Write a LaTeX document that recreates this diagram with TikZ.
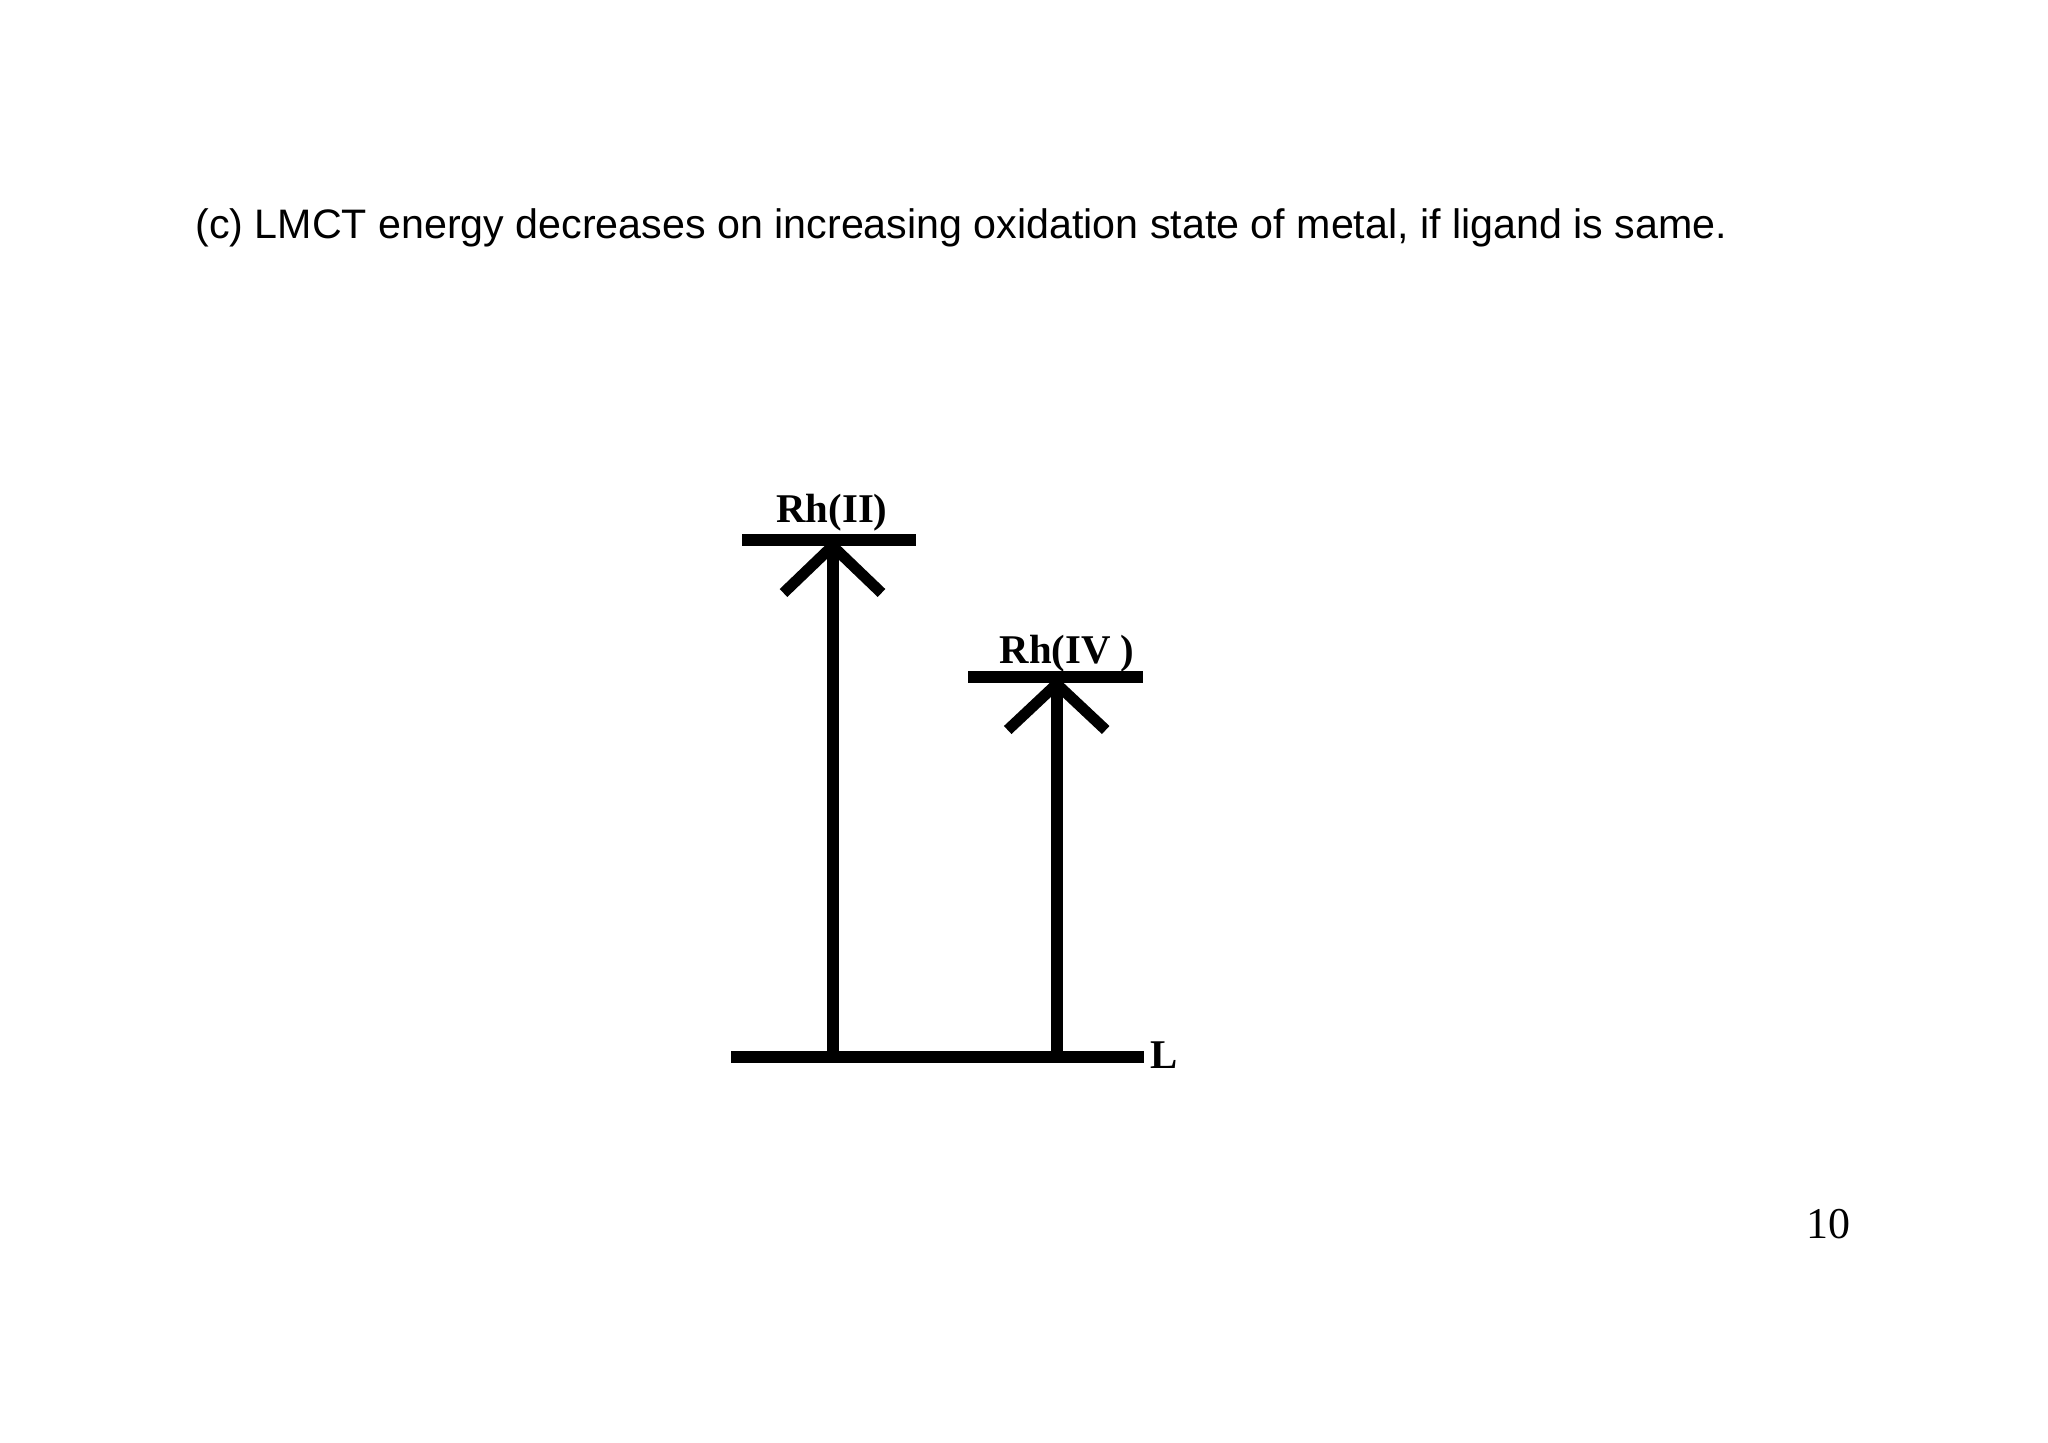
\documentclass[tikz,border=0pt]{standalone}
\usepackage{fontspec}
\setmainfont{Liberation Serif}
\newfontfamily\titlefont{Liberation Sans}
\begin{document}
\begin{tikzpicture}[x=0.5pt,y=-0.5pt,
  level/.style={line width=6pt, line cap=butt},
  trans/.style={line width=6pt, line cap=butt},
  wing/.style={line width=5.5pt, line cap=butt, line join=miter},
  lab/.style={anchor=base, inner sep=0pt, font=\fontsize{20.4pt}{24pt}\selectfont\bfseries},
]
\useasboundingbox (0,0) rectangle (2048,1443);
\fill[white] (0,0) rectangle (2048,1443);

% title
\node[anchor=base west, inner sep=0pt, font=\titlefont\fontsize{20.6pt}{24pt}\selectfont] (title) at (195,239)
  {(c) LMCT energy decreases on increasing oxidation state of metal, if ligand is same.};

% levels
\coordinate (Ll) at (731,1057);
\coordinate (Lr) at (1144,1057);
\coordinate (Al) at (742,540);
\coordinate (Ar) at (916,540);
\coordinate (Bl) at (968,677);
\coordinate (Br) at (1143,677);
\draw[level] (Ll) -- (Lr);
\draw[level] (Al) -- (Ar);
\draw[level] (Bl) -- (Br);

% transition arrows
\coordinate (a0) at (832.5,1057);
\coordinate (a1) at (832.5,540);
\coordinate (b0) at (1056.7,1057);
\coordinate (b1) at (1056.7,677);
\draw[trans] (a0) -- (a1);
\draw[trans] (b0) -- (b1);
\coordinate (ah) at (832.5,546);
\coordinate (bh) at (1056.7,684);
\draw[wing] ([shift={(-49,47)}]ah) -- (ah) -- ([shift={(49,47)}]ah);
\draw[wing] ([shift={(-49,46)}]bh) -- (bh) -- ([shift={(49,46)}]bh);

% labels
\node[lab] (rh2) at (832,522) {Rh(II)};
\node[lab] (rh4) at (1067,663) {Rh(IV )};
\node[lab, anchor=base west] (lig) at (1150,1068) {L};

% page number
\node[anchor=base west, inner sep=0pt, font=\fontsize{22pt}{26pt}\selectfont] (pg) at (1806,1238) {10};
\end{tikzpicture}
\end{document}
